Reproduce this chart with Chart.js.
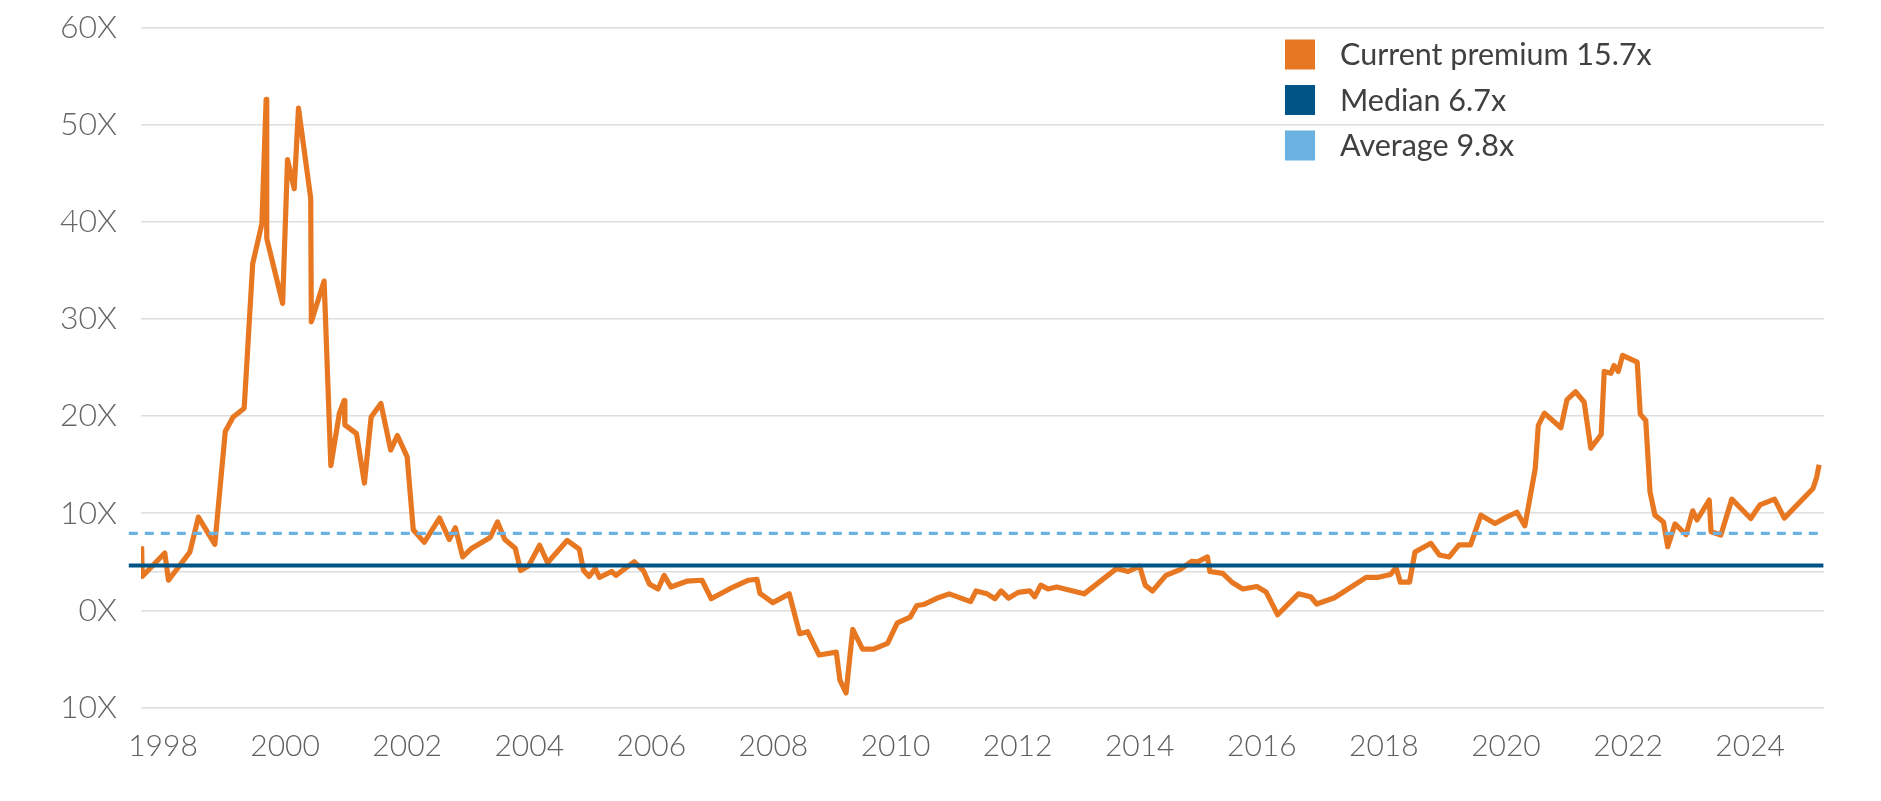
<!DOCTYPE html>
<html>
<head>
<meta charset="utf-8">
<script src="https://cdn.jsdelivr.net/npm/chart.js@4.4.1/dist/chart.umd.min.js"></script>
<style>
  html, body { margin: 0; padding: 0; background: #ffffff; }
  #wrap { width: 1881px; height: 801px; position: relative; }
</style>
</head>
<body>
<div id="wrap"><canvas id="c"></canvas></div>
<script>
// ---- Data ----
const premiumDates = [
  1997.65, 1997.66, 1998.03, 1998.09, 1998.44, 1998.58, 1998.85, 1999.02, 1999.15, 1999.33,
  1999.47, 1999.62, 1999.69, 1999.70, 1999.96, 2000.04, 2000.15, 2000.22, 2000.42, 2000.43,
  2000.64, 2000.75, 2000.89, 2000.97, 2000.98, 2001.17, 2001.30, 2001.41, 2001.57, 2001.73,
  2001.84, 2002.00, 2002.10, 2002.28, 2002.53, 2002.69, 2002.79, 2002.91, 2003.06, 2003.36,
  2003.48, 2003.60, 2003.77, 2003.86, 2003.99, 2004.17, 2004.30, 2004.62, 2004.82, 2004.89,
  2004.98, 2005.08, 2005.15, 2005.35, 2005.42, 2005.72, 2005.87, 2005.97, 2006.11, 2006.21,
  2006.32, 2006.58, 2006.83, 2006.98, 2007.34, 2007.59, 2007.73, 2007.78, 2007.99, 2008.26,
  2008.43, 2008.56, 2008.75, 2009.03, 2009.09, 2009.19, 2009.30, 2009.46, 2009.64, 2009.87,
  2010.03, 2010.24, 2010.35, 2010.46, 2010.70, 2010.88, 2011.23, 2011.32, 2011.50, 2011.63,
  2011.73, 2011.85, 2012.01, 2012.20, 2012.28, 2012.38, 2012.50, 2012.64, 2013.09, 2013.62,
  2013.81, 2014.00, 2014.09, 2014.21, 2014.43, 2014.66, 2014.85, 2014.95, 2015.11, 2015.15,
  2015.36, 2015.51, 2015.69, 2015.92, 2016.07, 2016.26, 2016.60, 2016.80, 2016.90, 2017.19,
  2017.71, 2017.91, 2018.11, 2018.20, 2018.27, 2018.42, 2018.51, 2018.77, 2018.91, 2019.07,
  2019.23, 2019.42, 2019.59, 2019.82, 2020.01, 2020.18, 2020.31, 2020.48, 2020.53, 2020.63,
  2020.90, 2021.00, 2021.14, 2021.28, 2021.39, 2021.56, 2021.61, 2021.72, 2021.77, 2021.84,
  2021.91, 2022.15, 2022.20, 2022.29, 2022.36, 2022.44, 2022.58, 2022.65, 2022.77, 2022.95,
  2023.06, 2023.13, 2023.33, 2023.36, 2023.52, 2023.70, 2024.01, 2024.16, 2024.40, 2024.56,
  2025.03, 2025.09, 2025.13
];
const premiumValues = [
  6.6, 3.5, 5.9, 3.1, 6.0, 9.6, 6.8, 18.4, 19.9, 20.8,
  35.7, 39.8, 52.6, 38.3, 31.6, 46.4, 43.4, 51.7, 42.4, 29.7,
  33.9, 14.9, 20.3, 21.6, 19.1, 18.2, 13.1, 19.9, 21.3, 16.5,
  18.0, 15.8, 8.3, 7.0, 9.5, 7.3, 8.5, 5.5, 6.4, 7.5,
  9.1, 7.3, 6.4, 4.1, 4.6, 6.7, 4.9, 7.2, 6.3, 4.1,
  3.5, 4.3, 3.4, 4.0, 3.6, 5.0, 4.1, 2.7, 2.2, 3.6,
  2.4, 3.0, 3.1, 1.2, 2.4, 3.1, 3.2, 1.75, 0.8, 1.7,
  -2.4, -2.2, -4.6, -4.3, -7.2, -8.5, -1.95, -4.0, -4.0, -3.4,
  -1.3, -0.7, 0.5, 0.6, 1.3, 1.7, 0.9, 2.0, 1.7, 1.2,
  2.0, 1.25, 1.85, 2.0, 1.4, 2.6, 2.2, 2.4, 1.7, 4.3,
  4.0, 4.55, 2.6, 2.0, 3.6, 4.2, 5.05, 5.0, 5.5, 4.0,
  3.8, 2.9, 2.2, 2.45, 1.9, -0.45, 1.7, 1.4, 0.65, 1.3,
  3.4, 3.4, 3.7, 4.4, 2.9, 2.9, 6.0, 6.9, 5.7, 5.5,
  6.75, 6.75, 9.8, 8.95, 9.6, 10.1, 8.7, 14.6, 19.05, 20.3,
  18.8, 21.7, 22.5, 21.45, 16.7, 18.1, 24.6, 24.4, 25.2, 24.6,
  26.25, 25.55, 20.2, 19.55, 12.2, 9.8, 9.1, 6.55, 8.9, 7.8,
  10.25, 9.3, 11.35, 8.1, 7.75, 11.45, 9.45, 10.85, 11.45, 9.5,
  12.55, 13.7, 15.0
];
const referenceSpan = [1997.44, 2025.20];
const medianValues = [4.63, 4.63];
const averageValues = [7.92, 7.92];
const seriesLabels = ['Current premium 15.7x', 'Median 6.7x', 'Average 9.8x'];
const yearTicks = [1998, 2000, 2002, 2004, 2006, 2008, 2010, 2012, 2014, 2016, 2018, 2020, 2022, 2024];
const yTicks = [-10, 0, 4, 10, 20, 30, 40, 50, 60];
const yLabelled = [-10, 0, 10, 20, 30, 40, 50, 60];

// ---- Styles ----
const ORANGE = '#E87722';
const NAVY = '#005587';
const SKY = '#6BB1E1';

const toXY = (xs, ys) => xs.map((x, i) => ({ x: x, y: ys[i] }));

const legendPlugin = {
  id: 'customLegend',
  afterDraw(chart) {
    const ctx = chart.ctx;
    const x0 = 1285, box = 30, rowH = 45.5, y0 = 39.5;
    ctx.save();
    ctx.font = '400 30.5px Lato';
    ctx.textBaseline = 'middle';
    ctx.textAlign = 'left';
    chart.data.datasets.forEach((ds, i) => {
      const y = y0 + i * rowH;
      ctx.fillStyle = ds.legendColor;
      ctx.fillRect(x0, y, box, box);
      ctx.fillStyle = '#404040';
      ctx.fillText(ds.label, x0 + 55, y + box / 2 + 1);
    });
    ctx.restore();
  }
};

Chart.defaults.font.family = 'Lato';

new Chart(document.getElementById('c'), {
  type: 'line',
  data: {
    datasets: [
      {
        label: seriesLabels[0],
        data: toXY(premiumDates, premiumValues),
        borderColor: ORANGE,
        legendColor: ORANGE,
        borderWidth: 5.2,
        pointRadius: 0,
        tension: 0,
        borderJoinStyle: 'round',
        order: 3
      },
      {
        label: seriesLabels[1],
        data: toXY(referenceSpan, medianValues),
        borderColor: NAVY,
        legendColor: NAVY,
        borderWidth: 4,
        pointRadius: 0,
        clip: false,
        order: 1
      },
      {
        label: seriesLabels[2],
        data: toXY(referenceSpan, averageValues),
        borderColor: SKY,
        legendColor: SKY,
        borderWidth: 3.3,
        borderDash: [9, 7],
        pointRadius: 0,
        clip: false,
        order: 2
      }
    ]
  },
  options: {
    responsive: true,
    maintainAspectRatio: false,
    animation: false,
    layout: { padding: { left: 0, right: 57, top: 27.5, bottom: 0 } },
    plugins: {
      legend: { display: false },
      tooltip: { enabled: false }
    },
    scales: {
      x: {
        type: 'linear',
        min: 1997.64,
        max: 2025.21,
        afterBuildTicks: (scale) => { scale.ticks = yearTicks.map(v => ({ value: v })); },
        afterFit: (scale) => { scale.height = 93.5; },
        grid: { display: false, drawTicks: false },
        border: { display: false },
        ticks: {
          autoSkip: false,
          maxRotation: 0,
          padding: 21,
          color: '#5f5f5f',
          font: { size: 30, weight: '300' },
          callback: (v) => String(v)
        }
      },
      y: {
        min: -10,
        max: 60,
        afterBuildTicks: (scale) => { scale.ticks = yTicks.map(v => ({ value: v })); },
        afterFit: (scale) => { scale.width = 141; },
        grid: { color: '#dedede', lineWidth: 1.6, drawTicks: true, tickLength: 24, tickColor: 'rgba(0,0,0,0)' },
        border: { display: false },
        ticks: {
          padding: 0,
          color: '#666666',
          font: { size: 32, weight: '300' },
          callback: (v) => (yLabelled.includes(v) ? Math.abs(v) + 'X' : '')
        }
      }
    }
  },
  plugins: [legendPlugin]
});
</script>
</body>
</html>
